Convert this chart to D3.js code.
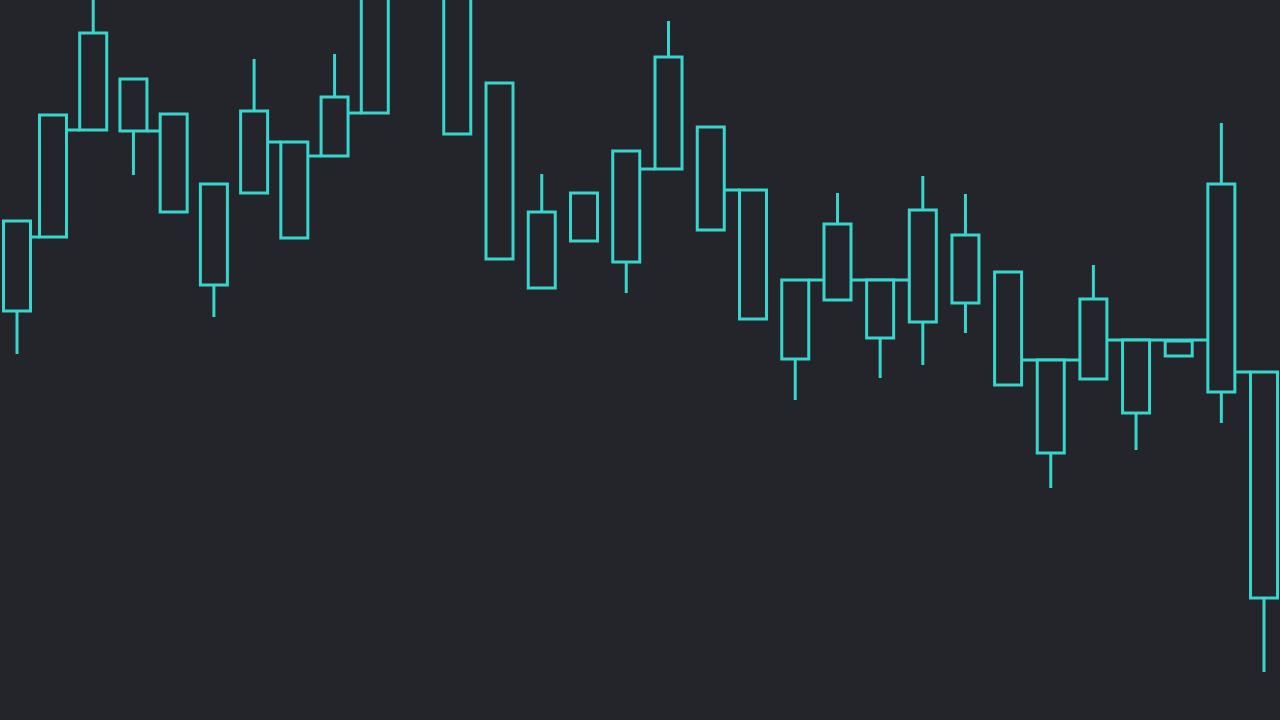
<!DOCTYPE html>
<html>
<head>
<meta charset="utf-8">
<script src="https://cdn.jsdelivr.net/npm/d3@7/dist/d3.min.js"></script>
<style>
  html, body { margin: 0; padding: 0; background: #23252a; overflow: hidden; }
  svg { display: block; }
</style>
</head>
<body>
<svg id="chart" width="1280" height="720"></svg>
<script>
// ---- Data (null = candle out of view) ----
const opens  = [88.9, 96.3, 107.0, 112.1, 108.6, 101.6, 100.7, 105.8, 104.4, 108.7, null,
                124.0, 111.7, 91.2, 100.7, 93.8, 103.1, 107.3, 101.0, 84.1, 90.0,
                92.0, 87.8, 96.5, 92.8, 84.0, 82.1, 86.0, 85.9, 80.8, 82.8];
const closes = [97.9, 108.5, 116.7, 106.9, 98.8, 91.5, 108.9, 96.2, 110.3, 124.0, null,
                106.6, 94.1, 98.8, 95.9, 104.9, 114.3, 97.0, 88.1, 92.0, 97.6,
                86.2, 99.0, 89.7, 81.5, 74.7, 90.1, 78.7, 84.4, 101.6, 60.2];
const highs  = [97.9, 108.5, 122.0, 112.1, 108.6, 101.6, 114.1, 105.8, 114.6, 124.0, null,
                124.0, 111.7, 102.6, 100.7, 104.9, 117.9, 107.3, 101.0, 92.0, 100.7,
                92.0, 102.4, 100.6, 92.8, 84.0, 93.5, 86.0, 85.9, 107.7, 82.8];
const lows   = [84.6, 96.3, 107.0, 102.5, 98.8, 88.3, 100.7, 96.2, 104.4, 108.7, null,
                106.6, 94.1, 91.2, 95.9, 90.7, 103.1, 97.0, 88.1, 80.0, 90.0,
                82.2, 83.5, 86.7, 81.5, 71.2, 82.1, 75.0, 84.4, 77.7, 52.8];

// horizontal level connectors between candles
const connFrom  = [0, 1, 3, 6, 7, 8, 15, 17, 19, 20, 24, 26, 29];
const connTo    = [1, 2, 4, 7, 8, 9, 16, 18, 20, 22, 26, 29, 30];
const connLevel = [96.3, 107.0, 106.9, 105.8, 104.4, 108.7, 103.1, 101.0, 92.0, 92.0, 84.0, 86.0, 82.8];

// ---- Build ----
const W = 1280, H = 720;
const COLOR = "#38d5ce";
const BG = "#23252a";
const candles = opens.map((o, i) => ({ i, o, c: closes[i], h: highs[i], l: lows[i] }))
                     .filter(d => d.o != null);

const x = d3.scaleLinear().domain([0, 1, 10, 20, 30]).range([17, 53, 415, 837.5, 1264]);
const y = d3.scaleLinear().domain([120, 48]).range([0, H]);
const half = 13.5;

const svg = d3.select("#chart");
svg.append("rect").attr("width", W).attr("height", H).attr("fill", BG);

const g = svg.append("g")
  .attr("fill", "none")
  .attr("stroke", COLOR)
  .attr("stroke-width", 3);

// connectors
g.selectAll("line.conn")
  .data(connFrom.map((f, k) => ({ f, t: connTo[k], v: connLevel[k] })))
  .join("line")
  .attr("class", "conn")
  .attr("x1", d => x(d.f) + half)
  .attr("x2", d => x(d.t) - half)
  .attr("y1", d => y(d.v))
  .attr("y2", d => y(d.v));

// wicks
g.selectAll("line.wick")
  .data(candles)
  .join("line")
  .attr("class", "wick")
  .attr("x1", d => x(d.i)).attr("x2", d => x(d.i))
  .attr("y1", d => y(d.h)).attr("y2", d => y(d.l));

// bodies (hollow)
g.selectAll("rect.body")
  .data(candles)
  .join("rect")
  .attr("class", "body")
  .attr("fill", BG)
  .attr("x", d => x(d.i) - half)
  .attr("width", half * 2)
  .attr("y", d => y(Math.max(d.o, d.c)))
  .attr("height", d => Math.abs(y(d.o) - y(d.c)));
</script>
</body>
</html>
